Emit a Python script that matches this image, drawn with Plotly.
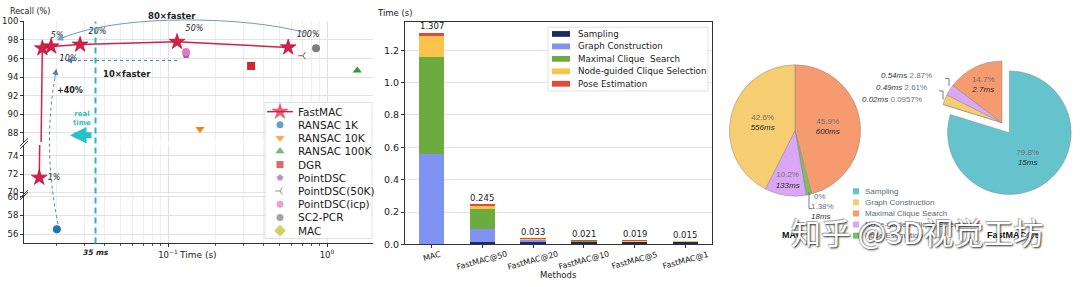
import plotly.graph_objects as go

W, H = 1080, 287
MPL = "DejaVu Sans"
SANS = "Liberation Sans"

# ---------------- Panel 1 : recall vs. time ----------------
fastmac_ratio = ["1%", "5%", "10%", "20%", "50%", "100%"]
fastmac_time_s = [0.0155, 0.0162, 0.0184, 0.0280, 0.114, 0.570]
fastmac_recall = [71.6, 97.1, 97.3, 97.5, 97.8, 97.2]

baseline_methods = ["RANSAC 1K", "RANSAC 10K", "RANSAC 100K", "DGR", "PointDSC",
                    "PointDSC(50K)", "PointDSC(icp)", "SC2-PCR", "MAC"]
baseline_time_s = [0.0200, 0.159, 1.55, 0.333, 0.130, 0.706, 0.130, 0.853, None]
baseline_recall = [56.5, 88.4, 94.7, 95.2, 96.4, 96.3, 96.7, 97.1, None]

realtime_budget_s = 0.035

time_tickvals = [0.1, 1.0]
time_ticktext = ["10<sup>\u22121</sup>", "10<sup>0</sup>"]
time_minor_vals = [m * 10.0 ** e for e in (-2, -1, 0) for m in range(2, 10)]
recall_ticks_top = [88, 90, 92, 94, 96, 98, 100]
recall_ticks_mid = [70, 72, 74]
recall_ticks_low = [56, 58, 60]

# ---------------- Panel 2 : stacked running time ----------------
methods = ["MAC", "FastMAC@50", "FastMAC@20", "FastMAC@10", "FastMAC@5", "FastMAC@1"]
stage_names = ["Sampling", "Graph Construction", "Maximal Clique\u00a0\u00a0Search",
               "Node-guided Clique Selection", "Pose Estimation"]
sampling_s = [0.0, 0.015, 0.016, 0.015, 0.015, 0.014]
graph_construction_s = [0.556, 0.081, 0.009, 0.003, 0.00049, 0.0005]
max_clique_s = [0.600, 0.122, 0.005, 0.002, 0.00276, 0.0004]
node_guided_s = [0.133, 0.019, 0.002, 0.0007, 0.00054, 0.0001]
pose_estimation_s = [0.018, 0.008, 0.001, 0.0003, 0.000018, 0.00001]
time_ticks = [0.0, 0.2, 0.4, 0.6, 0.8, 1.0, 1.2]

# ---------------- Panel 3 : pies ----------------
pie_stages = ["Sampling", "Graph Construction", "Maximal Clique Search",
              "Node-guided Clique Selection", "Pose Estimation"]
mac_ms = [0.0, 556.4, 600.0, 133.2, 18.0]
mac_ms_text = ["0ms", "556ms", "600ms", "133ms", "18ms"]
fastmac5_ms = [15.0, 0.49, 2.76, 0.54, 0.018]
fastmac5_ms_text = ["15ms", "0.49ms", "2.7ms", "0.54ms", "0.02ms"]

# ---------------- styles ----------------
RED = "#d81e48"
baseline_colors = ["#1f77b4", "#ff7f0e", "#2ca02c", "#d62728", "#9467bd",
                   "#8c564b", "#e377c2", "#7f7f7f", "#bcbd22"]
baseline_symbols = ["circle", "triangle-down", "triangle-up", "square", "pentagon",
                    "y-left", "circle", "circle", "diamond"]
baseline_sizes = [8, 8, 8, 8, 8, 6, 8, 8, 9]
stage_colors = ["#1c2a63", "#8092f2", "#6bab3f", "#fbc34a", "#e2493b"]
pie_colors = ["#64c3cd", "#f6cd70", "#f59b6f", "#d9a7f3", "#7cc05c"]
mac_order = [2, 4, 0, 3, 1]        # clockwise from 12 o'clock
fm5_order = [0, 4, 1, 3, 2]


def xdom(l, r):
    return [l / W, r / W]


def ydom(top, bot):
    return [1 - bot / H, 1 - top / H]


SEGMENTS = [  # axis, pixel top, pixel bottom, range, ticks
    ("y", 17, 142, [87.0, 100.0], recall_ticks_top),
    ("y2", 145, 196, [69.8, 75.2], recall_ticks_mid),
    ("y3", 197, 247, [55.0, 60.15], recall_ticks_low),
]


def seg_of(r):
    for name, _, _, rng, _ in SEGMENTS:
        if r is not None and rng[0] <= r <= rng[1]:
            return name
    return "y"


fig = go.Figure()

# ---- panel 1 traces ----
fm_textpos = ["middle right", "top right", "bottom right", "top right", "top right", "top right"]
for yax in ("y", "y2"):
    seg_text = [lab if seg_of(r) == yax else "" for lab, r in zip(fastmac_ratio, fastmac_recall)]
    fig.add_trace(go.Scatter(
        x=fastmac_time_s, y=fastmac_recall, xaxis="x", yaxis=yax,
        mode="lines+markers+text", text=seg_text, textposition=fm_textpos,
        textfont=dict(family=MPL, size=8, style="italic", color="#222"),
        line=dict(color=RED, width=1.5),
        marker=dict(symbol="star", size=12, color=RED, line=dict(color="#9e0f30", width=0.6)),
        cliponaxis=True, showlegend=False, hoverinfo="skip"))

for i, name in enumerate(baseline_methods):
    t, r = baseline_time_s[i], baseline_recall[i]
    sym = baseline_symbols[i]
    fig.add_trace(go.Scatter(
        x=[t], y=[r], xaxis="x", yaxis=seg_of(r), mode="markers", name=name,
        marker=dict(symbol=sym, size=baseline_sizes[i], color=baseline_colors[i],
                    line=dict(color=baseline_colors[i], width=1.0 if sym == "y-left" else 0)),
        showlegend=False, hoverinfo="skip"))

# ---- panel 2 traces ----
stage_values = [sampling_s, graph_construction_s, max_clique_s, node_guided_s, pose_estimation_s]
for name, vals, col in zip(stage_names, stage_values, stage_colors):
    fig.add_trace(go.Bar(x=methods, y=vals, name=name, xaxis="x2", yaxis="y4",
                         width=0.5, marker=dict(color=col, line=dict(width=0)),
                         showlegend=False, hoverinfo="skip"))
totals = [sum(v) for v in zip(*stage_values)]

# ---- pies ----
def pie_trace(values, texts, order, domain_x, domain_y, inside, pull):
    return go.Pie(
        labels=[pie_stages[k] for k in order], values=[values[k] for k in order],
        customdata=[texts[k] for k in order],
        marker=dict(colors=[pie_colors[k] for k in order], line=dict(color="#8a8a8a", width=0.5)),
        sort=False, direction="clockwise", rotation=0,
        textposition=["inside" if k in inside else "none" for k in order],
        texttemplate="<span style='color:#707070'>%{percent}</span><br><i>%{customdata}</i>",
        insidetextorientation="horizontal",
        insidetextfont=dict(family=SANS, size=8, color="#2a2a2a"),
        pull=[pull if k == 0 else 0 for k in order],
        domain=dict(x=domain_x, y=domain_y), showlegend=False, hoverinfo="skip")


fig.add_trace(pie_trace(mac_ms, mac_ms_text, mac_order, xdom(727, 863), ydom(62, 198), {1, 2, 3}, 0))
fig.add_trace(pie_trace(fastmac5_ms, fastmac5_ms_text, fm5_order, xdom(925.2, 1078.8),
                        ydom(45.2, 198.8), {0, 2}, 0.2))

# ---- custom legends (overlay pixel axes x3 / y5) ----
leg1_names = ["FastMAC"] + baseline_methods
leg1_syms = ["star"] + baseline_symbols
leg1_cols = [RED] + baseline_colors
leg1_sizes = [12] + [7, 8, 8, 7, 7, 6, 7, 7, 9]
L1_ROW0, L1_DY, L1_SX, L1_TX = 110.5, 13.7, 280, 296
leg1_rows = [L1_ROW0 + i * L1_DY for i in range(len(leg1_names))]
fig.add_trace(go.Scatter(x=[L1_SX - 13, L1_SX + 13], y=[leg1_rows[0]] * 2, xaxis="x3", yaxis="y5",
                         mode="lines", line=dict(color=RED, width=1.5), showlegend=False, hoverinfo="skip"))
fig.add_trace(go.Scatter(
    x=[L1_SX] * len(leg1_names), y=leg1_rows, xaxis="x3", yaxis="y5", mode="markers",
    marker=dict(symbol=leg1_syms, size=leg1_sizes, color=leg1_cols,
                line=dict(color=leg1_cols, width=[0.6 if s == "star" else (1.0 if s == "y-left" else 0) for s in leg1_syms])),
    showlegend=False, hoverinfo="skip"))

L3_ROW0, L3_DY, L3_SX, L3_TX = 193, 11.5, 856, 863
leg3_rows = [L3_ROW0 + i * L3_DY for i in range(len(pie_stages))]
fig.add_trace(go.Scatter(x=[L3_SX] * len(pie_stages), y=leg3_rows, xaxis="x3", yaxis="y5",
                         mode="markers", marker=dict(symbol="square", size=6, color=pie_colors),
                         showlegend=False, hoverinfo="skip"))

annotations = []
shapes = []


def note(x, y, text, size=8, color="#222", weight="normal", style="normal",
         xanchor="center", yanchor="middle", family=MPL, angle=0, shadow=None):
    f = dict(family=family, size=size, color=color, weight=weight, style=style)
    if shadow:
        f["shadow"] = shadow
    return dict(x=x, y=y, xref="x3", yref="y5", text=text, showarrow=False, font=f,
                xanchor=xanchor, yanchor=yanchor, textangle=angle)


def head(x, y, ax, ay, color, width=1.0, size=1.0, style=2):
    return dict(x=x, y=y, xref="x3", yref="y5", ax=ax, ay=ay, text="", showarrow=True,
                arrowhead=style, arrowsize=size, arrowwidth=width, arrowcolor=color, standoff=0)


def pxline(path, color, width=1.0, dash="solid", layer="above"):
    return dict(type="path", path=path, xref="x3", yref="y5", layer=layer,
                line=dict(color=color, width=width, dash=dash))


# legend 1
shapes.append(dict(type="rect", xref="x3", yref="y5", x0=265, x1=372, y0=101, y1=242,
                   fillcolor="white", line=dict(color="#d9d9d9", width=0.8), layer="below"))
for name, yv in zip(leg1_names, leg1_rows):
    annotations.append(note(L1_TX, yv, name, size=10.5, color="#1a1a1a", xanchor="left"))

# legend 2 (bars)
shapes.append(dict(type="rect", xref="x3", yref="y5", x0=548, x1=708, y0=23, y1=89,
                   fillcolor="white", line=dict(color="#d9d9d9", width=0.8), layer="below"))
for i, (name, col) in enumerate(zip(stage_names, stage_colors)):
    yv = 30 + i * 12.9
    shapes.append(dict(type="rect", xref="x3", yref="y5", x0=552, x1=570, y0=yv - 3, y1=yv + 3,
                       fillcolor=col, line=dict(width=0), layer="below"))
    annotations.append(note(576, yv, name, size=8.7, color="#1a1a1a", xanchor="left"))

# legend 3 (pies)
for name, yv in zip(pie_stages, leg3_rows):
    annotations.append(note(L3_TX, yv, name, size=8, color="#5a6878", xanchor="left", family=SANS))

# panel 1 text
annotations += [
    note(8, 7, "Recall (%)", size=8, xanchor="left"),
    note(172, 11, "80\u00d7faster", size=8.5, weight="bold"),
    note(127, 72, "10\u00d7faster", size=8.5, weight="bold"),
    note(70, 89, "+40%", size=8, weight="bold"),
    note(82, 118, "real<br>time", size=7, color="#2bbfc8", weight="bold"),
    note(96, 256, "35 ms", size=7.5, weight="bold", style="italic"),
    note(198, 259, "Time (s)", size=9),
]
# arrows
shapes.append(pxline("M 306 29 C 250 12, 120 8, 60 35", "#6d9cc2", 1.0))
annotations.append(head(57, 36.5, 9, -4, "#6d9cc2", 1.0, 1.2))
shapes.append(pxline("M 177 57.5 L 70 57.5", "#4a7fb5", 1.0, "dot"))
annotations.append(head(66, 57.5, 10, 0, "#4a7fb5", 1.0, 1.2))
shapes.append(pxline("M 58 227 Q 42 145 56 70", "#4a7fb5", 1.0, "dot"))
annotations.append(head(56.5, 66, -2, 10, "#4a7fb5", 1.0, 1.2))
annotations.append(head(70, 135, 23, 0, "#26c2ca", 6, 0.55))
# real-time budget line
fig.add_shape(type="line", xref="x", yref="paper", x0=realtime_budget_s, x1=realtime_budget_s,
              y0=1 - 247 / H, y1=1 - 17 / H, line=dict(color="#2bb5bd", width=2, dash="6px,4px"),
              layer="above")
# axis-break marks
for yb in (142, 145, 196, 198):
    shapes.append(pxline(f"M 20 {yb + 4} L 28 {yb - 4}", "#333", 1.0))

# panel 2 text
annotations.append(note(395, 8, "Time (s)", size=8.5))
annotations.append(note(558, 280, "Methods", size=8.5))
for m, tot in zip(methods, totals):
    annotations.append(dict(x=m, y=tot, xref="x2", yref="y4", text=f"{tot:.3f}", showarrow=False,
                            yanchor="bottom", font=dict(family=MPL, size=8.5, color="#222")))
    annotations.append(dict(x=m, y=0, xref="x2", yref="y4", text=m, showarrow=False,
                            yanchor="top", yshift=-3, textangle=-15,
                            font=dict(family=MPL, size=8, color="#222")))

# pie small-slice labels
mac_total = sum(mac_ms)
fm_total = sum(fastmac5_ms)


def pct(v, tot):
    return f"{100 * v / tot:.3g}%"


annotations += [
    note(820, 198.5, pct(mac_ms[0], mac_total), size=8, color="#6a7585", family=SANS),
    note(822, 208.5, pct(mac_ms[4], mac_total), size=8, color="#6a7585", family=SANS),
    note(821, 219, mac_ms_text[4], size=8, color="#333", style="italic", family=SANS),
]
shapes.append(pxline("M 809 194 L 809 211 L 812 211", "#556070", 0.8))
for k, yv, xr in ((3, 73, 934), (1, 85.5, 929), (4, 98, 924)):
    annotations.append(note(xr, yv, f"<i><span style='color:#333'>{fastmac5_ms_text[k]}</span></i> "
                                     f"{pct(fastmac5_ms[k], fm_total)}",
                            size=8, color="#6a7585", xanchor="right", family=SANS))
shapes.append(pxline("M 945 76 L 949 76 L 949 84", "#556070", 0.8))
shapes.append(pxline("M 939 89 L 943 89 L 943 98", "#556070", 0.8))

# pie titles and watermark
annotations.append(note(792, 238, "MAC", size=9, weight="bold", color="#111", family=SANS))
annotations.append(note(1013, 238, "FastMAC@5", size=9, weight="bold", color="#111", family=SANS))
annotations.append(note(917, 234, "\u77e5\u4e4e @3D\u89c6\u89c9\u5de5\u574a", size=30, color="white",
                        family="Noto Sans CJK SC",
                        shadow="1px 1px 2px rgba(0,0,0,0.85), -1px -1px 1px rgba(0,0,0,0.35)"))

for s in shapes:
    fig.add_shape(**s)

axis_common = dict(showline=True, linecolor="#333", linewidth=1, ticks="outside", ticklen=3,
                   tickcolor="#333", zeroline=False)
tick8 = dict(family=MPL, size=8.5, color="#222")

layout = dict(
    width=W, height=H, margin=dict(l=0, r=0, t=0, b=0),
    paper_bgcolor="white", plot_bgcolor="rgba(0,0,0,0)", showlegend=False, hovermode=False,
    font=dict(family=MPL, size=9, color="#222"), barmode="stack",
    uniformtext=dict(minsize=8, mode="show"),
    annotations=annotations,
    xaxis=dict(type="log", domain=xdom(24, 373), anchor="y3",
               range=[-1.9057, 0.2893], tickmode="array", tickvals=time_tickvals, ticktext=time_ticktext,
               showgrid=True, gridcolor="#e2e2e2", gridwidth=0.8, tickfont=tick8,
               minor=dict(tickmode="array", tickvals=time_minor_vals, showgrid=True, gridcolor="#eeeeee",
                          gridwidth=0.7, ticks="outside", ticklen=2, tickcolor="#555"),
               **axis_common),
    xaxis2=dict(type="category", domain=xdom(405, 712), anchor="y4", range=[-0.525, 5.525],
                mirror=True, showticklabels=False, showgrid=False, **axis_common),
    yaxis4=dict(domain=ydom(18, 248), anchor="x2", range=[0, 1.3724], tickmode="array",
                tickvals=time_ticks, tickformat=".1f", mirror=True, showgrid=True,
                gridcolor="#e3e3e3", gridwidth=0.8, tickfont=dict(family=MPL, size=9.5, color="#222"),
                **axis_common),
    xaxis3=dict(domain=[0, 1], range=[0, W], visible=False, anchor="y5", fixedrange=True),
    yaxis5=dict(domain=[0, 1], range=[H, 0], visible=False, anchor="x3", fixedrange=True),
)
for idx, (name, top, bot, rng, ticks) in enumerate(SEGMENTS):
    key = "yaxis" if name == "y" else "yaxis" + name[1:]
    layout[key] = dict(domain=ydom(top, bot), anchor="x", range=rng, tickmode="array", tickvals=ticks,
                       showgrid=True, gridcolor="#e2e2e2", gridwidth=0.8, tickfont=tick8, **axis_common)

fig.update_layout(**layout)
fig.write_html("out.html")
